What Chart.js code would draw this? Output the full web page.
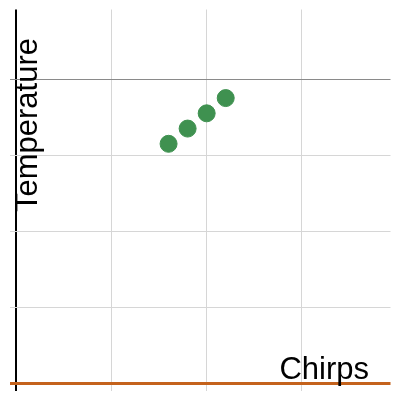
<!DOCTYPE html>
<html><head><style>html,body{margin:0;padding:0;background:#fff}#w{width:400px;height:400px}</style>
<script src="https://cdn.jsdelivr.net/npm/chart.js@4"></script></head>
<body><div id="w"><canvas id="c"></canvas></div>
<script>
const chirps = [16, 18, 20, 22];
const temperature = [63, 67, 71, 75];
const xTicks = [0, 10, 20, 30];
const yTicks = [0, 20, 40, 60, 80];
const titles = {x: 'Chirps', y: 'Temperature'};

const labelPlugin = {
  id: 'labels',
  afterDraw(chart) {
    const ctx = chart.ctx;
    ctx.save();
    ctx.fillStyle = '#000';
    ctx.font = '31px "Liberation Sans", Arial, sans-serif';
    ctx.textAlign = 'right'; ctx.textBaseline = 'alphabetic';
    ctx.fillText(titles.x, 369, 379);
    ctx.translate(37, 125);
    ctx.rotate(-Math.PI / 2);
    ctx.textAlign = 'center';
    ctx.fillText(titles.y, 0, 0);
    ctx.restore();
  }
};

new Chart(document.getElementById('c'), {
  type: 'scatter',
  data: {datasets: [{
    data: chirps.map((x, i) => ({x, y: temperature[i]})),
    backgroundColor: '#3f9150', borderColor: '#3f9150',
    pointRadius: 8.5, pointHoverRadius: 8.5
  }]},
  options: {
    responsive: true, maintainAspectRatio: false, animation: false,
    layout: {padding: {left: -8, top: -10, right: -10, bottom: -8}},
    plugins: {legend: {display: false}, tooltip: {enabled: false}},
    scales: {
      x: {
        type: 'linear', min: -0.7, max: 39.3,
        afterBuildTicks: s => { s.ticks = xTicks.map(v => ({value: v})); },
        ticks: {display: false, padding: 0},
        border: {display: false},
        grid: {drawTicks: false, tickLength: 0,
          color: c => c.tick && c.tick.value === 0 ? '#000' : '#d6d6d6',
          lineWidth: c => c.tick && c.tick.value === 0 ? 2 : 1}
      },
      y: {
        type: 'linear', min: -1.75, max: 98.25,
        afterBuildTicks: s => { s.ticks = yTicks.map(v => ({value: v})); },
        ticks: {display: false, padding: 0},
        border: {display: false},
        grid: {drawTicks: false, tickLength: 0,
          color: c => !c.tick ? '#d6d6d6' : c.tick.value === 0 ? '#c4621c' : c.tick.value === 80 ? '#8a8a8a' : '#d6d6d6',
          lineWidth: c => c.tick && c.tick.value === 0 ? 3 : 1}
      }
    }
  },
  plugins: [labelPlugin]
});
</script></body></html>
